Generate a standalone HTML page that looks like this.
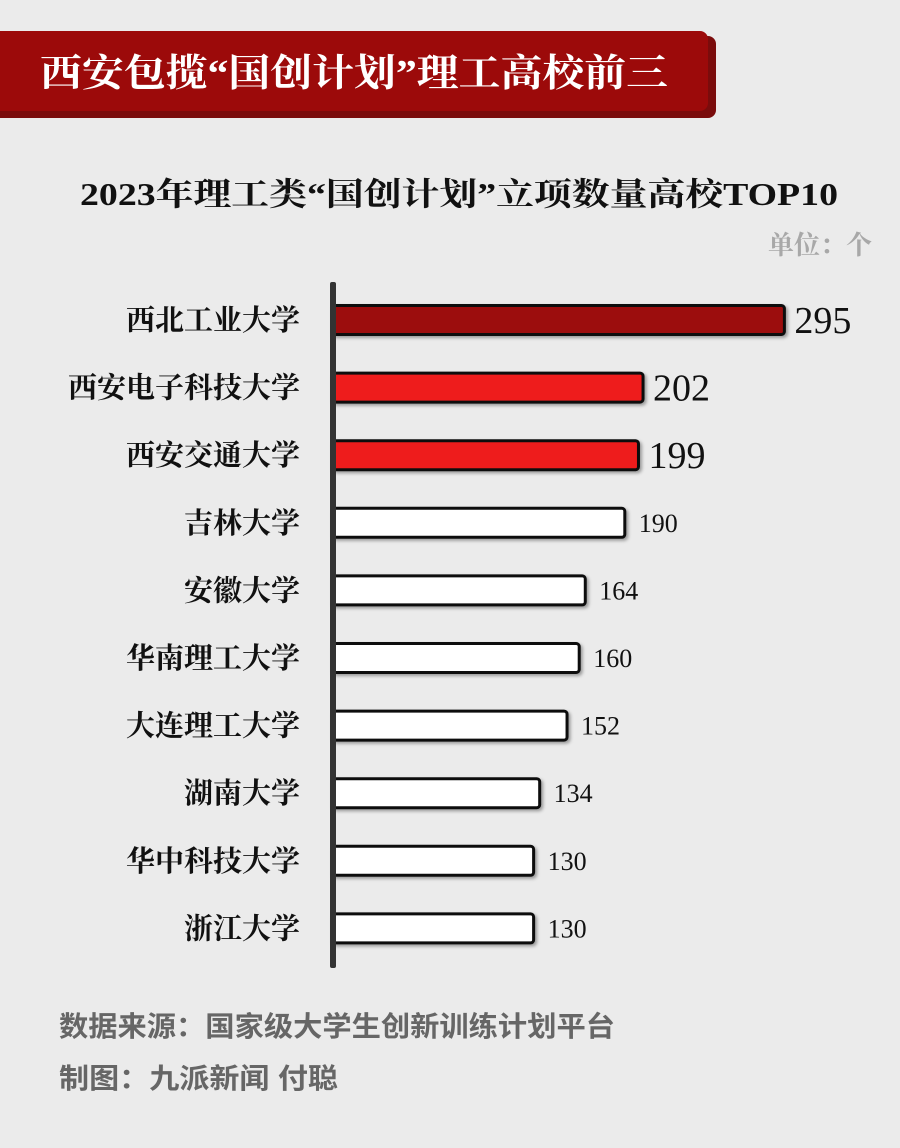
<!DOCTYPE html>
<html><head><meta charset="utf-8">
<style>
html,body{margin:0;padding:0;background:#ebebeb;}
svg{display:block;}
.serif{font-family:"Liberation Serif","Noto Serif CJK SC",serif;font-weight:bold;}
.sans{font-family:"Liberation Sans","Noto Sans CJK SC",sans-serif;font-weight:bold;}
</style></head>
<body>
<svg id="chart" width="900" height="1148" viewBox="0 0 900 1148" xmlns="http://www.w3.org/2000/svg">
  <defs>
    <filter id="sh" x="-5%" y="-30%" width="115%" height="180%">
      <feDropShadow dx="2" dy="2" stdDeviation="1.5" flood-color="#000" flood-opacity="0.35"/>
    </filter>
  </defs>
  <rect x="0" y="0" width="900" height="1148" fill="#ebebeb"/>
  <g>
    <rect x="-10" y="36" width="726" height="82" rx="8" fill="#7a0c0c"/>
    <rect x="-10" y="31" width="718" height="80" rx="8" fill="#9c0a0a"/>
    <text x="40" y="86" class="serif" font-size="38" fill="#fff" textLength="628" lengthAdjust="spacingAndGlyphs">西安包揽“国创计划”理工高校前三</text>
  </g>
  <text x="80" y="205" class="serif" font-size="32" fill="#111" textLength="758" lengthAdjust="spacingAndGlyphs">2023年理工类“国创计划”立项数量高校TOP10</text>
  <text x="872" y="254" text-anchor="end" class="serif" font-size="26" fill="#a8a8a8">单位：个</text>
  <g id="bars"></g>
  <rect x="330" y="282" width="6" height="686" rx="2" fill="#333"/>
  <text x="59" y="1036" class="sans" font-size="28" fill="#666" textLength="556" lengthAdjust="spacingAndGlyphs">数据来源：国家级大学生创新训练计划平台</text>
  <text x="59" y="1088" class="sans" font-size="28" fill="#666" textLength="279" lengthAdjust="spacingAndGlyphs">制图：九派新闻 付聪</text>
</svg>
<script>
const categories = ["西北工业大学","西安电子科技大学","西安交通大学","吉林大学","安徽大学","华南理工大学","大连理工大学","湖南大学","华中科技大学","浙江大学"];
const values = [295,202,199,190,164,160,152,134,130,130];
const highlight = [2,1,1,0,0,0,0,0,0,0];

const NS = "http://www.w3.org/2000/svg";
const x0 = 336, scale = 1.52, y0 = 320, step = 67.6, bh = 29;
const xScale = v => x0 + v * scale;
const yScale = i => y0 + i * step;
const g = document.getElementById("bars");
const fills = ["#ffffff", "#ee1a1a", "#9c0a0a"];
categories.forEach((c, i) => {
  const cy = yScale(i);
  const r = document.createElementNS(NS, "rect");
  r.setAttribute("x", x0 - 4);
  r.setAttribute("y", cy - bh / 2);
  r.setAttribute("width", xScale(values[i]) - x0 + 4);
  r.setAttribute("height", bh);
  r.setAttribute("rx", 3);
  r.setAttribute("fill", fills[highlight[i]]);
  r.setAttribute("stroke", "#111");
  r.setAttribute("stroke-width", "3");
  r.setAttribute("filter", "url(#sh)");
  
  
  g.appendChild(r);

  const lab = document.createElementNS(NS, "text");
  lab.setAttribute("x", 300);
  lab.setAttribute("y", cy + 10);
  lab.setAttribute("text-anchor", "end");
  lab.setAttribute("class", "serif");
  lab.setAttribute("font-size", "29");
  lab.setAttribute("fill", "#111");
  lab.textContent = c;
  
  
  g.appendChild(lab);

  const big = highlight[i] > 0;
  const v = document.createElementNS(NS, "text");
  v.setAttribute("x", xScale(values[i]) + (big ? 10 : 14));
  v.setAttribute("y", cy + (big ? 13 : 9));
  v.setAttribute("font-family", '"Liberation Serif", serif');
  v.setAttribute("font-size", big ? "38" : "26");
  v.setAttribute("fill", "#111");
  v.textContent = values[i];
  
  
  g.appendChild(v);
});
</script>
</body></html>
